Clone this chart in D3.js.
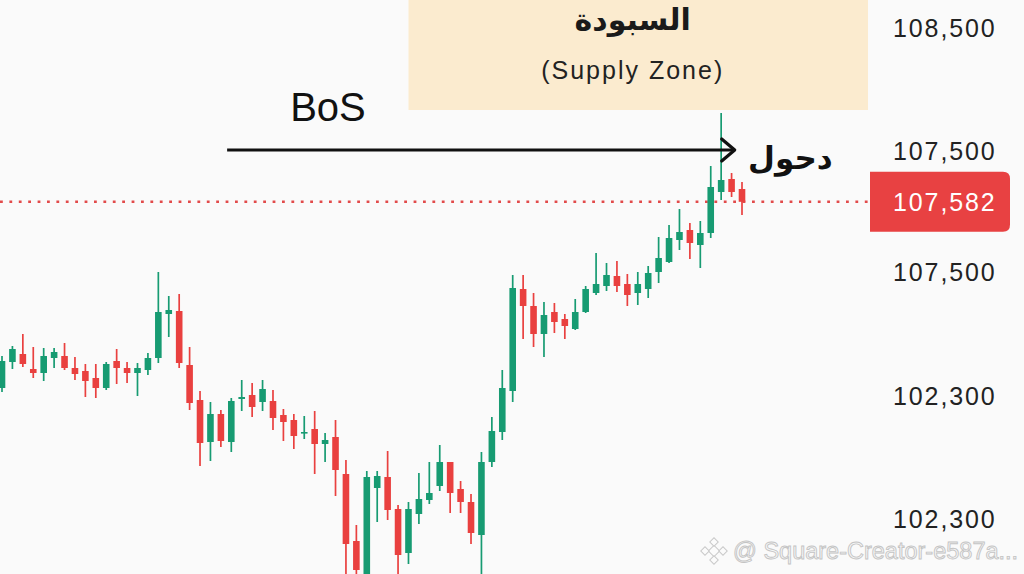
<!DOCTYPE html>
<html><head><meta charset="utf-8">
<script src="https://cdn.jsdelivr.net/npm/d3@7"></script>
<style>
html,body{margin:0;padding:0;background:#fafafa;}
svg{display:block;}
</style></head>
<body>
<script>
// ---- data ----
const opens  = [105720,105980,106060,105910,105870,106020,106040,105920,105890,105820,105720,105990,105920,105870,105900,106020,106460,106490,105950,105600,105180,105460,105180,105610,105650,105580,105590,105450,105400,105270,105310,105160,105230,104860,104190,103800,104720,104830,104510,104070,104460,104600,104740,104980,104710,104580,104250,104980,105280,105690,106710,106540,106260,106480,106410,106310,106480,106670,106740,106840,106760,106670,106710,106880,106980,107200,107300,107150,107270,107680,107810,107710];
const highs  = [106040,106140,106260,106130,106120,106120,106170,106030,105960,105960,105980,106110,105980,105970,106070,106880,106640,106660,106130,105690,105580,105500,105620,105800,105770,105800,105700,105510,105460,105440,105490,105270,105400,105000,104350,104890,104890,105090,104550,104580,104870,104980,105150,104980,104790,104660,105080,105430,105900,106850,106850,106670,106580,106570,106460,106610,106740,107070,106970,106990,106860,106880,106940,107230,107350,107510,107370,107390,107940,108470,107870,107780];
const lows   = [105680,105910,105930,105820,105790,105920,105900,105800,105630,105620,105700,105760,105770,105640,105850,105970,106230,105920,105500,104940,104990,105130,105080,105490,105430,105490,105300,105190,105110,105210,104860,104980,104640,103800,103700,103700,104380,104400,103800,103960,104360,104560,104690,104470,104470,104160,103800,104930,105200,105580,106210,106130,106030,106270,106210,106300,106470,106650,106690,106680,106540,106550,106620,106770,106970,107100,107010,106920,107220,107600,107630,107450];
const closes = [105990,106110,105960,105870,106040,106080,105920,105860,105790,105720,105960,105920,105870,105920,106020,106480,106500,105970,105570,105170,105460,105190,105590,105630,105530,105710,105420,105380,105240,105280,105160,105200,104900,104160,103900,104830,104840,104500,104050,104510,104610,104670,104980,104670,104580,104270,104980,105290,105720,106720,106540,106260,106450,106380,106340,106480,106710,106760,106850,106740,106650,106760,106870,107020,107220,107280,107170,107270,107730,107800,107680,107582];
const tickValues = [109320, 108090, 106880, 105640, 104410];
const tickLabels = ["108,500", "107,500", "107,500", "102,300", "102,300"];
const currentPrice = 107582;
const currentLabel = "107,582";
const zoneTitle = "السبودة";
const zoneSubtitle = "(Supply Zone)";
const zoneBottom = 108500, zoneTop = 110000, zoneStart = 39;
const bosLabel = "BoS";
const bosPrice = 108100, bosFrom = 21.6, bosTo = 70.3;
const entryLabel = "دحول";
const watermark = "@ Square-Creator-e587a...";

// ---- layout ----
const W = 1024, H = 574, plotRight = 869;
const GREEN = "#179b72", RED = "#e9403f";
const svg = d3.select("body").append("svg").attr("width", W).attr("height", H);
svg.append("rect").attr("width", W).attr("height", H).attr("fill", "#fafafa");

const x = d3.scaleLinear().domain([0, opens.length - 1]).range([2, 742]);
const y = d3.scaleLinear().domain([103860, 109600]).range([H, 0]);

// supply zone
svg.append("rect")
  .attr("x", x(zoneStart)).attr("y", y(zoneTop))
  .attr("width", plotRight - 1 - x(zoneStart))
  .attr("height", y(zoneBottom) - y(zoneTop))
  .attr("fill", "#fbebcf");
const zc = (x(zoneStart) + plotRight) / 2 - 6;
svg.append("text").attr("x", zc).attr("y", y(zoneBottom) - 80)
  .attr("text-anchor", "middle").attr("font-family", "DejaVu Sans")
  .attr("font-weight", "bold").attr("font-size", 30).attr("fill", "#1a1a1a")
  .text(zoneTitle);
svg.append("text").attr("x", zc).attr("y", y(zoneBottom) - 31)
  .attr("text-anchor", "middle").attr("font-family", "Liberation Sans")
  .attr("font-size", 25).attr("letter-spacing", 2).attr("fill", "#222")
  .text(zoneSubtitle);

// current price dotted line
svg.append("line")
  .attr("x1", 0).attr("x2", plotRight).attr("y1", y(currentPrice)).attr("y2", y(currentPrice))
  .attr("stroke", "#e24a4a").attr("stroke-width", 2.6).attr("stroke-dasharray", "2.8,6.6");

// candles
const data = opens.map((o, i) => ({i, o, h: highs[i], l: lows[i], c: closes[i]}));
const bw = 6.6;
const cg = svg.append("g").selectAll("g").data(data).join("g");
cg.append("line")
  .attr("x1", d => x(d.i)).attr("x2", d => x(d.i))
  .attr("y1", d => y(d.h)).attr("y2", d => y(d.l))
  .attr("stroke", d => d.c >= d.o ? GREEN : RED).attr("stroke-width", 1.7);
cg.append("rect")
  .attr("x", d => x(d.i) - bw / 2).attr("width", bw)
  .attr("y", d => y(Math.max(d.o, d.c)))
  .attr("height", d => Math.max(1.6, Math.abs(y(d.o) - y(d.c))))
  .attr("fill", d => d.c >= d.o ? GREEN : RED);

// BoS arrow
const by = y(bosPrice);
svg.append("line").attr("x1", x(bosFrom)).attr("x2", x(bosTo)).attr("y1", by).attr("y2", by)
  .attr("stroke", "#111").attr("stroke-width", 3);
svg.append("path")
  .attr("d", `M${x(bosTo) - 13},${by - 11} L${x(bosTo)},${by} L${x(bosTo) - 13},${by + 11}`)
  .attr("fill", "none").attr("stroke", "#111").attr("stroke-width", 3.2)
  .attr("stroke-linecap", "round").attr("stroke-linejoin", "round");
svg.append("text").attr("x", x(bosFrom) + 63).attr("y", by - 29)
  .attr("font-family", "Liberation Sans").attr("font-size", 40).attr("fill", "#111")
  .text(bosLabel);
svg.append("text").attr("x", x(bosTo) + 98).attr("y", by + 19)
  .attr("text-anchor", "end").attr("font-family", "DejaVu Sans").attr("font-weight", "bold")
  .attr("font-size", 31).attr("fill", "#111").text(entryLabel);

// right axis
const ax = svg.append("g").attr("transform", `translate(${plotRight + 1},0)`)
  .call(d3.axisRight(y).tickValues(tickValues).tickFormat((d, i) => tickLabels[i]).tickSize(0).tickPadding(23));
ax.select(".domain").remove();
ax.selectAll("text").attr("font-family", "Liberation Sans").attr("font-size", 25)
  .attr("letter-spacing", 1.9).attr("fill", "#222");

// price badge
const cy = y(currentPrice), bx0 = 870, bx1 = 1010, bh = 60, r = 7;
svg.append("path")
  .attr("d", `M${bx0},${cy - bh / 2} H${bx1 - r} Q${bx1},${cy - bh / 2} ${bx1},${cy - bh / 2 + r} V${cy + bh / 2 - r} Q${bx1},${cy + bh / 2} ${bx1 - r},${cy + bh / 2} H${bx0} Z`)
  .attr("fill", "#e84142");
svg.append("text").attr("x", 893).attr("y", cy).attr("dy", "0.35em")
  .attr("font-family", "Liberation Sans").attr("font-size", 25).attr("letter-spacing", 1.9)
  .attr("fill", "#fff").text(currentLabel);

// watermark
const wm = svg.append("g").attr("transform", "translate(714,551)").attr("fill", "#fbfbfb").attr("stroke", "#c9c9c9").attr("stroke-width", 1);
wm.append("rect").attr("x", -4).attr("y", -4).attr("width", 8).attr("height", 8).attr("transform", "rotate(45)");
[[0,-9],[0,9],[-9,0],[9,0]].forEach(([dx, dy]) =>
  wm.append("rect").attr("x", dx - 3).attr("y", dy - 3).attr("width", 6).attr("height", 6).attr("transform", `rotate(45 ${dx} ${dy})`));
svg.append("text").attr("x", 733).attr("y", 559)
  .attr("font-family", "Liberation Sans").attr("font-size", 23.5)
  .attr("fill", "#f7f7f7").attr("stroke", "#c4c4c4").attr("stroke-width", 0.9)
  .text(watermark);
</script>
</body></html>
